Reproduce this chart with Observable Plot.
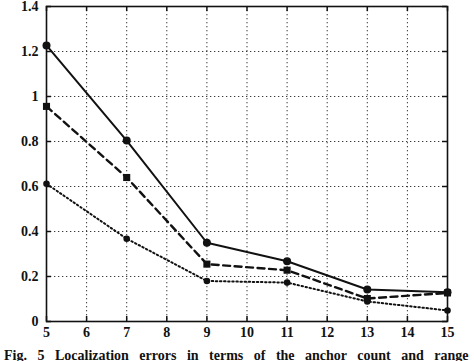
<!DOCTYPE html>
<html>
<head>
<meta charset="utf-8">
<script src="https://cdn.jsdelivr.net/npm/d3@7"></script>
<script src="https://cdn.jsdelivr.net/npm/@observablehq/plot@0.6"></script>
<style>
  html, body { margin: 0; padding: 0; background: #fff; width: 474px; height: 361px; overflow: hidden; }
  #wrap { position: relative; width: 474px; height: 361px; }
  #caption { position: absolute; left: 4px; top: 348px; font: bold 14px "Liberation Serif", serif; line-height: 16px; white-space: nowrap; color: #111; word-spacing: 7px; }
  #chart svg text { font-family: "Liberation Serif", serif; font-weight: bold; }
</style>
</head>
<body>
<div id="wrap">
<div id="chart"></div>
<div id="caption">Fig. 5 Localization errors in terms of the anchor count and range</div>
</div>
<script>
const xValues = [5, 7, 9, 11, 13, 15];
const solidSeries = [1.227, 0.804, 0.35, 0.268, 0.142, 0.13];
const dashedSeries = [0.956, 0.64, 0.255, 0.228, 0.102, 0.127];
const dottedSeries = [0.612, 0.368, 0.18, 0.173, 0.089, 0.049];
const xTicks = [5, 6, 7, 8, 9, 10, 11, 12, 13, 14, 15];
const yTicks = [0, 0.2, 0.4, 0.6, 0.8, 1, 1.2, 1.4];
const yTickLabels = ["0", "0.2", "0.4", "0.6", "0.8", "1", "1.2", "1.4"];

const rows = (vals) => xValues.map((x, i) => ({x, y: vals[i]}));
const solid = rows(solidSeries), dashed = rows(dashedSeries), dotted = rows(dottedSeries);

const W = 474, H = 345, mL = 46, mR = 27, mT = 6, mB = 24;
const pw = W - mL - mR, ph = H - mT - mB;
const grid = {stroke: "#222", strokeWidth: 1, strokeDasharray: "1.3,2.7", strokeOpacity: 0.9};
const font = {fontSize: 14, fill: "#111"};

const chart = Plot.plot({
  width: W, height: H,
  marginLeft: mL, marginRight: mR, marginTop: mT, marginBottom: mB,
  x: {domain: [5, 15]},
  y: {domain: [0, 1.4]},
  style: {background: "#fff", fontFamily: "Liberation Serif, serif", fontWeight: "bold", fontSize: "14px"},
  marks: [
    Plot.ruleX(xTicks.slice(1, -1), {x: d => d, ...grid}),
    Plot.ruleY(yTicks.slice(1, -1), {y: d => d, ...grid}),
    Plot.tickX(xTicks, {x: d => d, insetTop: ph - 5, stroke: "#111", strokeWidth: 1.5}),
    Plot.tickX(xTicks, {x: d => d, insetBottom: ph - 5, stroke: "#111", strokeWidth: 1.5}),
    Plot.tickY(yTicks, {y: d => d, insetRight: pw - 5, stroke: "#111", strokeWidth: 1.5}),
    Plot.tickY(yTicks, {y: d => d, insetLeft: pw - 5, stroke: "#111", strokeWidth: 1.5}),
    Plot.frame({stroke: "#111", strokeWidth: 1.6}),
    Plot.axisX(xTicks, {tickSize: 0, tickPadding: 6, label: null, ...font}),
    Plot.axisY(yTicks, {tickSize: 0, tickPadding: 8, label: null, tickFormat: (d, i) => yTickLabels[i], ...font}),
    Plot.line(dotted, {x: "x", y: "y", stroke: "#111", strokeWidth: 2, strokeDasharray: "1.5,2.6"}),
    Plot.line(dashed, {x: "x", y: "y", stroke: "#111", strokeWidth: 2.4, strokeDasharray: "7,4.5"}),
    Plot.line(solid, {x: "x", y: "y", stroke: "#111", strokeWidth: 2}),
    Plot.dot(dotted, {x: "x", y: "y", r: 3.3, fill: "#111", stroke: "none"}),
    Plot.dot(dashed, {x: "x", y: "y", r: 4, symbol: "square", fill: "#111", stroke: "none"}),
    Plot.dot(solid, {x: "x", y: "y", r: 4, fill: "#111", stroke: "none"})
  ]
});
document.getElementById("chart").appendChild(chart);
</script>
</body>
</html>
